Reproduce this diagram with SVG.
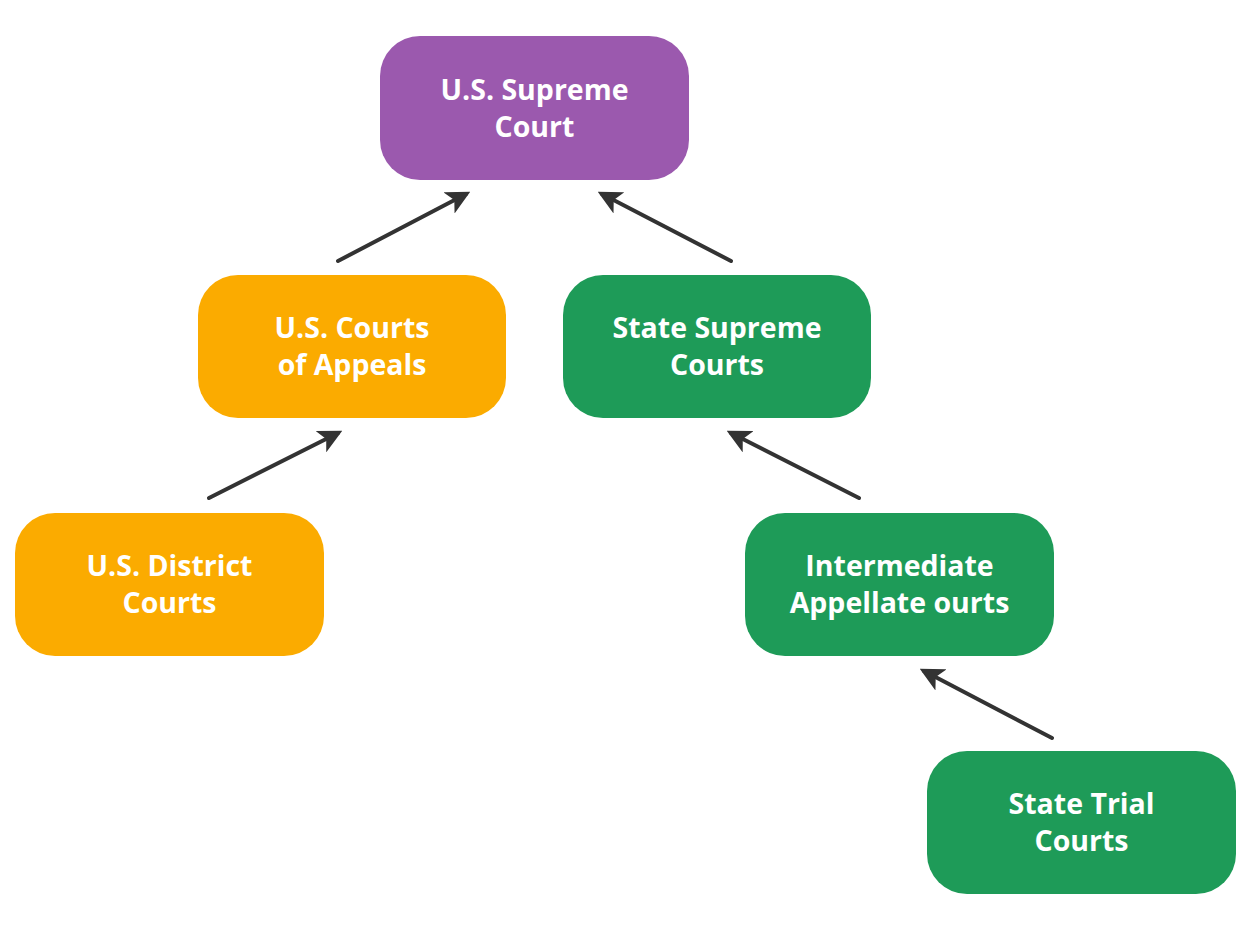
<svg xmlns="http://www.w3.org/2000/svg" width="1251" height="931" viewBox="0 0 1251 931">
<defs>
<style>
.box{stroke:none}
.purple{fill:#9B59AE}
.orange{fill:#FBAB00}
.green{fill:#1E9B58}
.t{font-family:"Open Sans","Liberation Sans",sans-serif;font-weight:700;font-size:28.5px;fill:#fff;text-anchor:middle}
.c{stroke:#333;stroke-width:4;fill:none;stroke-linecap:round;marker-end:url(#ah)}
</style>
<marker id="ah" viewBox="0 0 10 10" refX="8" refY="5" markerWidth="6" markerHeight="6" markerUnits="strokeWidth" orient="auto">
<path d="M0,0 L10,5 L0,10 L2.5,5 Z" fill="#333"/>
</marker>
</defs>
<rect width="1251" height="931" fill="#fff"/>
<g id="connectors">
<line class="c" x1="338" y1="261" x2="466" y2="194"/>
<line class="c" x1="731" y1="261" x2="602" y2="194"/>
<line class="c" x1="209" y1="498" x2="338" y2="433"/>
<line class="c" x1="859" y1="498" x2="731" y2="433"/>
<line class="c" x1="1052" y1="738" x2="924" y2="671"/>
</g>
<g id="supreme">
<rect class="box purple" x="380" y="36" width="309" height="144" rx="40"/>
<text class="t" x="534.5" y="100">U.S. Supreme</text>
<text class="t" x="534.5" y="137">Court</text>
</g>
<g id="appeals">
<rect class="box orange" x="198" y="275" width="308" height="143" rx="40"/>
<text class="t" x="352" y="338">U.S. Courts</text>
<text class="t" x="352" y="375">of Appeals</text>
</g>
<g id="state-supreme">
<rect class="box green" x="563" y="275" width="308" height="143" rx="40"/>
<text class="t" x="717" y="338">State Supreme</text>
<text class="t" x="717" y="375">Courts</text>
</g>
<g id="district">
<rect class="box orange" x="15" y="513" width="309" height="143" rx="40"/>
<text class="t" x="169.5" y="576">U.S. District</text>
<text class="t" x="169.5" y="613">Courts</text>
</g>
<g id="intermediate">
<rect class="box green" x="745" y="513" width="309" height="143" rx="40"/>
<text class="t" x="899.5" y="576">Intermediate</text>
<text class="t" x="899.5" y="613">Appellate ourts</text>
</g>
<g id="state-trial">
<rect class="box green" x="927" y="751" width="309" height="143" rx="40"/>
<text class="t" x="1081.5" y="814">State Trial</text>
<text class="t" x="1081.5" y="851">Courts</text>
</g>
</svg>
